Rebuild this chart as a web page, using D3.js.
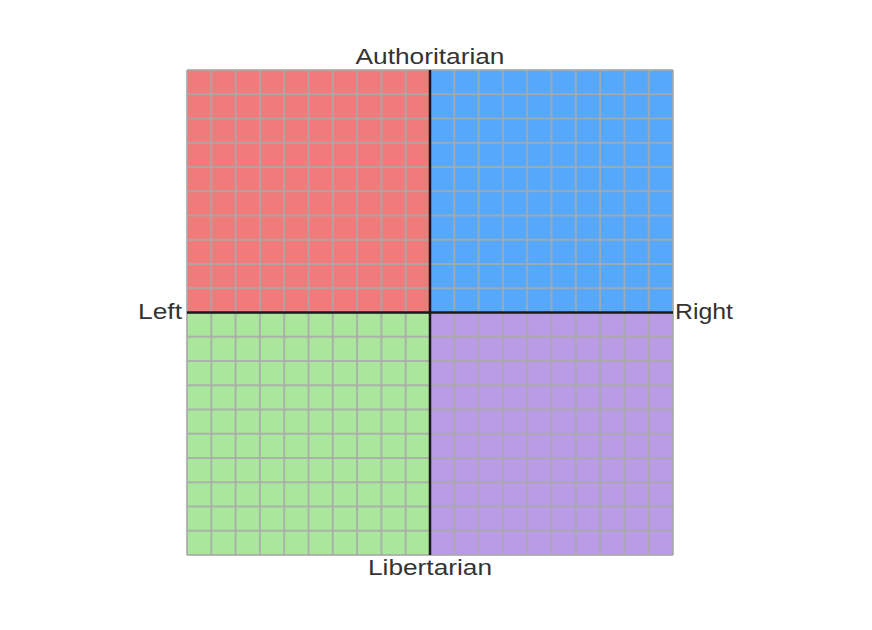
<!DOCTYPE html>
<html>
<head>
<meta charset="utf-8">
<script src="https://cdn.jsdelivr.net/npm/d3@7"></script>
<style>
  body { margin: 0; background: #fff; }
  text { font-family: "Liberation Sans", Arial, sans-serif; fill: #333; }
</style>
</head>
<body>
<script>
// quadrants of the compass, in axis units (-10..10)
var quadrants = [
  { name: "AuthLeft",  x0: -10, x1: 0,  y0: 0,   y1: 10,  color: "#f17b7b" },
  { name: "AuthRight", x0: 0,   x1: 10, y0: 0,   y1: 10,  color: "#55a8fa" },
  { name: "LibLeft",   x0: -10, x1: 0,  y0: -10, y1: 0,   color: "#aae69b" },
  { name: "LibRight",  x0: 0,   x1: 10, y0: -10, y1: 0,   color: "#b99be6" }
];
var gridTicks = d3.range(-10, 11, 1);
var axisLabels = [
  { text: "Authoritarian", x: 0,   y: 10,  pos: "top" },
  { text: "Libertarian",   x: 0,   y: -10, pos: "bottom" },
  { text: "Left",          x: -10, y: 0,   pos: "left" },
  { text: "Right",         x: 10,  y: 0,   pos: "right" }
];

var W = 872, H = 630;
var svg = d3.select("body").append("svg").attr("width", W).attr("height", H);

var x = d3.scaleLinear().domain([-10, 10]).range([187, 673]);
var y = d3.scaleLinear().domain([-10, 10]).range([555, 70]);

svg.selectAll("rect.q")
  .data(quadrants)
  .enter().append("rect")
    .attr("class", "q")
    .attr("x", d => x(d.x0))
    .attr("y", d => y(d.y1))
    .attr("width", d => x(d.x1) - x(d.x0))
    .attr("height", d => y(d.y0) - y(d.y1))
    .attr("fill", d => d.color);

// grid
var grid = svg.append("g").attr("stroke", "#a9a9a9").attr("stroke-width", 2).attr("stroke-opacity", 0.85);
grid.selectAll("line.v").data(gridTicks).enter().append("line")
  .attr("x1", d => x(d)).attr("x2", d => x(d))
  .attr("y1", y(10)).attr("y2", y(-10));
grid.selectAll("line.h").data(gridTicks).enter().append("line")
  .attr("y1", d => y(d)).attr("y2", d => y(d))
  .attr("x1", x(-10)).attr("x2", x(10));

// main axes through the middle
svg.append("line")
  .attr("x1", x(0)).attr("x2", x(0)).attr("y1", y(10)).attr("y2", y(-10))
  .attr("stroke", "#1a1a1a").attr("stroke-width", 2.5);
svg.append("line")
  .attr("x1", x(-10)).attr("x2", x(10)).attr("y1", y(0)).attr("y2", y(0))
  .attr("stroke", "#1a1a1a").attr("stroke-width", 2.5);

// labels (the picture is a bit stretched sideways, so widths are fixed)
var widths = { Authoritarian: 149, Libertarian: 124, Left: 44, Right: 58 };
svg.selectAll("text.lab")
  .data(axisLabels)
  .enter().append("text")
    .attr("class", "lab")
    .attr("font-size", 22)
    .attr("textLength", d => widths[d.text])
    .attr("lengthAdjust", "spacingAndGlyphs")
    .attr("x", d => {
      if (d.pos == "left") return x(d.x) - 5 - widths[d.text];
      if (d.pos == "right") return x(d.x) + 2;
      return x(d.x) - widths[d.text] / 2;
    })
    .attr("y", d => {
      if (d.pos == "top") return y(d.y) - 6;
      if (d.pos == "bottom") return y(d.y) + 20;
      return y(d.y) + 6;
    })
    .text(d => d.text);
</script>
</body>
</html>
